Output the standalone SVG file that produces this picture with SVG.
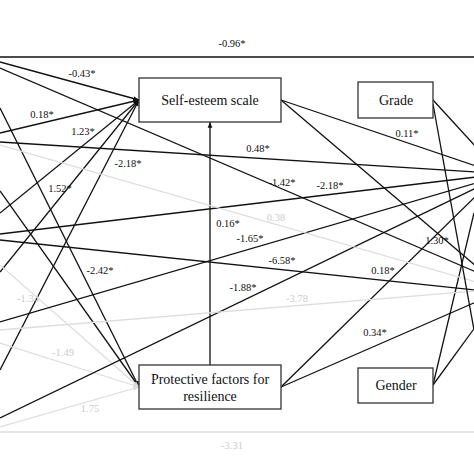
<svg xmlns="http://www.w3.org/2000/svg" width="474" height="474" viewBox="0 0 474 474">
<style>
.box{fill:#fff;stroke:#333;stroke-width:1.3}
text{font-family:'Liberation Serif','Times New Roman','DejaVu Serif',serif}
.bt{font-size:14px;fill:#111;text-anchor:middle}
.lb{font-size:10.5px;fill:#111;text-anchor:middle}
.lg{font-size:10.5px;fill:#ccc;text-anchor:middle}
.d{stroke:#111;stroke-width:1.3;fill:none}
.g{stroke:#ddd;stroke-width:1.3;fill:none}
.a{marker-end:url(#ah)}
.ag{marker-end:url(#ahg)}
</style>
<defs>
<marker id="ah" viewBox="0 0 10 10" refX="10" refY="5" markerWidth="4.5" markerHeight="4.5" orient="auto" markerUnits="strokeWidth"><path d="M0,1 L10,5 L0,9 z" fill="#111"/></marker>
<marker id="ahg" viewBox="0 0 10 10" refX="10" refY="5" markerWidth="4.5" markerHeight="4.5" orient="auto" markerUnits="strokeWidth"><path d="M0,1 L10,5 L0,9 z" fill="#ddd"/></marker>
</defs>
<rect width="474" height="474" fill="#fff"/>
<g id="connectors">
<line class="d" x1="0" y1="57" x2="474" y2="57"/>
<line class="g" x1="0" y1="432" x2="474" y2="432"/>
<line class="d a" x1="0" y1="62" x2="139" y2="100"/>
<line class="d a" x1="0" y1="133" x2="139" y2="100"/>
<line class="d a" x1="0" y1="213" x2="139" y2="100"/>
<line class="d a" x1="0" y1="272" x2="139" y2="100"/>
<line class="d a" x1="0" y1="370" x2="139" y2="100"/>
<line class="d a" x1="0" y1="108" x2="139" y2="387"/>
<line class="d a" x1="0" y1="191" x2="139" y2="387"/>
<line class="g ag" x1="0" y1="265" x2="139" y2="387"/>
<line class="g ag" x1="0" y1="343" x2="139" y2="387"/>
<line class="g ag" x1="0" y1="427" x2="139" y2="387"/>
<line class="d a" x1="210" y1="365" x2="210" y2="122"/>
<line class="d" x1="0" y1="142" x2="476" y2="172"/>
<line class="d" x1="0" y1="234" x2="476" y2="177"/>
<line class="d" x1="0" y1="322" x2="476" y2="183"/>
<line class="d" x1="0" y1="418" x2="476" y2="188"/>
<line class="d" x1="281" y1="100" x2="476" y2="166"/>
<line class="d" x1="281" y1="387" x2="476" y2="196"/>
<line class="d" x1="433" y1="100" x2="476" y2="147"/>
<line class="d" x1="433" y1="385" x2="474" y2="213"/>
<line class="d" x1="0" y1="68" x2="476" y2="272"/>
<line class="g" x1="0" y1="145" x2="476" y2="282"/>
<line class="d" x1="0" y1="240" x2="476" y2="290"/>
<line class="g" x1="0" y1="330" x2="476" y2="291"/>
<line class="d" x1="281" y1="100" x2="476" y2="266"/>
<line class="d" x1="281" y1="387" x2="476" y2="302"/>
<line class="d" x1="433" y1="104" x2="474" y2="330"/>
<line class="d" x1="433" y1="385" x2="476" y2="326"/>
</g>
<g id="labels">
<text class="lb" x="232" y="47">-0.96*</text>
<text class="lb" x="82" y="77">-0.43*</text>
<text class="lb" x="42" y="118">0.18*</text>
<text class="lb" x="83" y="135">1.23*</text>
<text class="lb" x="128" y="167">-2.18*</text>
<text class="lb" x="60" y="192">1.52*</text>
<text class="lb" x="258" y="152">0.48*</text>
<text class="lb" x="282" y="186">-1.42*</text>
<text class="lb" x="330" y="189">-2.18*</text>
<text class="lb" x="407" y="137">0.11*</text>
<text class="lb" x="228" y="227">0.16*</text>
<text class="lg" x="276" y="221">0.38</text>
<text class="lb" x="250" y="242">-1.65*</text>
<text class="lb" x="282" y="264">-6.58*</text>
<text class="lb" x="100" y="274">-2.42*</text>
<text class="lb" x="243" y="291">-1.88*</text>
<text class="lg" x="297" y="302">-3.78</text>
<text class="lb" x="383" y="274">0.18*</text>
<text class="lb" x="437" y="244">1.30*</text>
<text class="lb" x="375" y="336">0.34*</text>
<text class="lg" x="28" y="302">-1.34</text>
<text class="lg" x="63" y="356">-1.49</text>
<text class="lg" x="90" y="412">1.75</text>
<text class="lg" x="232" y="449">-3.31</text>
</g>
<g id="self-esteem">
<rect class="box" x="139" y="78" width="142" height="44"/>
<text class="bt" x="210" y="105">Self-esteem scale</text>
</g>
<g id="grade">
<rect class="box" x="358" y="82" width="75" height="36"/>
<text class="bt" x="396" y="105">Grade</text>
</g>
<g id="protective">
<rect class="box" x="139" y="365" width="142" height="44"/>
<text class="bt" x="210" y="384">Protective factors for</text>
<text class="bt" x="210" y="401">resilience</text>
</g>
<g id="gender">
<rect class="box" x="358" y="368" width="75" height="35"/>
<text class="bt" x="396" y="390">Gender</text>
</g>
</svg>
